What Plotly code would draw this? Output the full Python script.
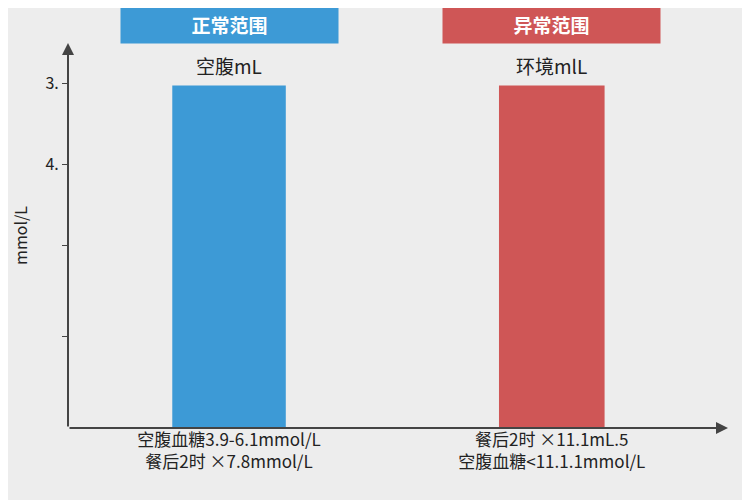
import plotly.graph_objects as go

x_pos = [0.244, 0.733]
values = [3.38, 3.38]
colors = ["#3d9ad6", "#cf5656"]
widths = [0.172, 0.16]
group_titles = ["正常范围", "异常范围"]
bar_labels = ["空腹mL", "环境mlL"]
cat_labels = ["空腹血糖3.9-6.1mmol/L<br>餐后2时 ×7.8mmol/L",
              "餐后2时 ×11.1mL.5<br>空腹血糖<11.1.1mmol/L"]
ytick_vals = [0.9, 1.8, 2.6, 3.4]
ytick_text = ["", "", "4.", "3."]

fig = go.Figure(go.Bar(x=x_pos, y=values, width=widths, marker_color=colors,
                       marker_line_width=0, hoverinfo="skip"))
font = "Noto Sans CJK SC"
fig.update_layout(
    width=750, height=500, paper_bgcolor="#ededed", plot_bgcolor="#ededed",
    margin=dict(l=60, r=30, t=35, b=80), showlegend=False,
    font=dict(family=font, color="#222"),
    xaxis=dict(range=[0, 1], tickvals=x_pos, ticktext=cat_labels, showgrid=False,
               zeroline=False, showline=False, ticks="", tickfont=dict(size=17)),
    yaxis=dict(range=[0, 3.8], tickvals=ytick_vals, ticktext=ytick_text, showgrid=False,
               zeroline=False, showline=False, ticks="outside", ticklen=5,
               tickfont=dict(size=16), title=dict(text="mmol/L", font=dict(size=16))),
)
fig.add_annotation(x=0, y=1, ax=0, ay=0, xref="x domain", yref="y domain",
                   axref="x domain", ayref="y domain",
                   showarrow=True, arrowhead=2, arrowsize=1.2, arrowwidth=2, arrowcolor="#444", text="")
fig.add_annotation(x=1, y=0, ax=0, ay=0, xref="x domain", yref="y domain",
                   axref="x domain", ayref="y domain",
                   showarrow=True, arrowhead=2, arrowsize=1.2, arrowwidth=2, arrowcolor="#444", text="")
for xp, v, lab, t, c in zip(x_pos, values, bar_labels, group_titles, colors):
    fig.add_annotation(x=xp, y=v, text=lab, showarrow=False, yshift=20,
                       font=dict(size=19, color="#222"))
    fig.add_annotation(x=xp, y=1.1, yref="paper", text="<b>" + t + "</b>", showarrow=False,
                       bgcolor=c, font=dict(size=19, color="white"), width=215, height=36)
fig.write_html("out.html")
